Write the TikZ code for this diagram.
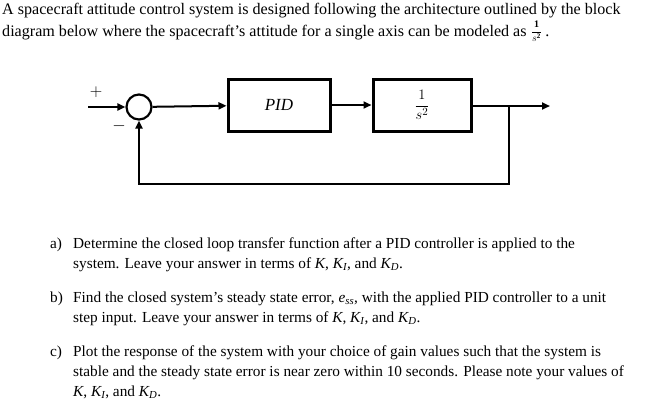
\documentclass[tikz,border=0pt]{standalone}
\usepackage{fontspec}
\setmainfont{Liberation Serif}
\usetikzlibrary{arrows.meta}
\begin{document}
\begin{tikzpicture}[x=1pt,y=-1pt,
  blk/.style={draw,line width=3pt,minimum width=102pt,minimum height=52pt,inner sep=0pt},
  wire/.style={line width=2pt},
  arr/.style={wire,-{Triangle[length=8pt,width=7pt]}},
  txt/.style={anchor=base west,inner sep=0pt,font=\fontsize{15.3}{17}\selectfont},
  hdr/.style={anchor=base west,inner sep=0pt,font=\fontsize{16.1}{18}\selectfont}]
\useasboundingbox (0,0) rectangle (645,410);
\node[hdr] (t1) at (2,14) {A spacecraft attitude control system is designed following the architecture outlined by the block};
\node[hdr] (t2) at (2,36) {diagram below where the spacecraft’s attitude for a single axis can be modeled as};
\node[anchor=west,inner sep=0pt,font=\fontsize{10}{12}\selectfont] (fr) at ([xshift=4pt,yshift=5pt]t2.base east) {$\displaystyle\frac{\mathbf{1}}{s^{\mathbf{2}}}$};
\node[hdr] (dot) at ([xshift=3pt]fr.east|-t2.base) {.};
\node[circle,draw,line width=2.2pt,minimum size=25pt,inner sep=0pt] (sum) at (139,107) {};
\node[blk] (pid) at (279,105) {\fontsize{17}{20}\selectfont\textit{PID}};
\node[blk,minimum width=98pt] (g) at (422,105) {\fontsize{15}{18}\selectfont$\displaystyle\frac{1}{s^2}$};
\coordinate (in) at (88,107);
\coordinate (br) at (509,106);
\coordinate (out) at (550,106);
\coordinate (fb1) at (509,184);
\coordinate (fb2) at (139,184);
\draw[arr] (in) -- (sum);
\draw[arr] (sum) -- (pid);
\draw[arr] (pid) -- (g);
\draw[arr] (g.east|-br) -- (out);
\draw[arr] (br) -- (fb1) -- (fb2) -- (sum);
\node[font=\LARGE] (plus) at (96,92) {$+$};
\node[font=\LARGE] (minus) at (119,126) {$-$};
\node[txt] (a) at (50,248) {a)};
\node[txt] (a1) at (73,248) {Determine the closed loop transfer function after a PID controller is applied to the};
\node[txt] (a2) at (73,268) {system. Leave your answer in terms of \textit{K}, \textit{K\textsubscript{I}}, and \textit{K\textsubscript{D}}.};
\node[txt] (b) at (50,302) {b)};
\node[txt] (b1) at (73,302) {Find the closed system’s steady state error, \textit{e\textsubscript{ss}}, with the applied PID controller to a unit};
\node[txt] (b2) at (73,322) {step input. Leave your answer in terms of \textit{K}, \textit{K\textsubscript{I}}, and \textit{K\textsubscript{D}}.};
\node[txt] (c) at (50,356) {c)};
\node[txt] (c1) at (73,356) {Plot the response of the system with your choice of gain values such that the system is};
\node[txt] (c2) at (73,376) {stable and the steady state error is near zero within 10 seconds. Please note your values of};
\node[txt] (c3) at (73,396) {\textit{K}, \textit{K\textsubscript{I}}, and \textit{K\textsubscript{D}}.};
\end{tikzpicture}
\end{document}
